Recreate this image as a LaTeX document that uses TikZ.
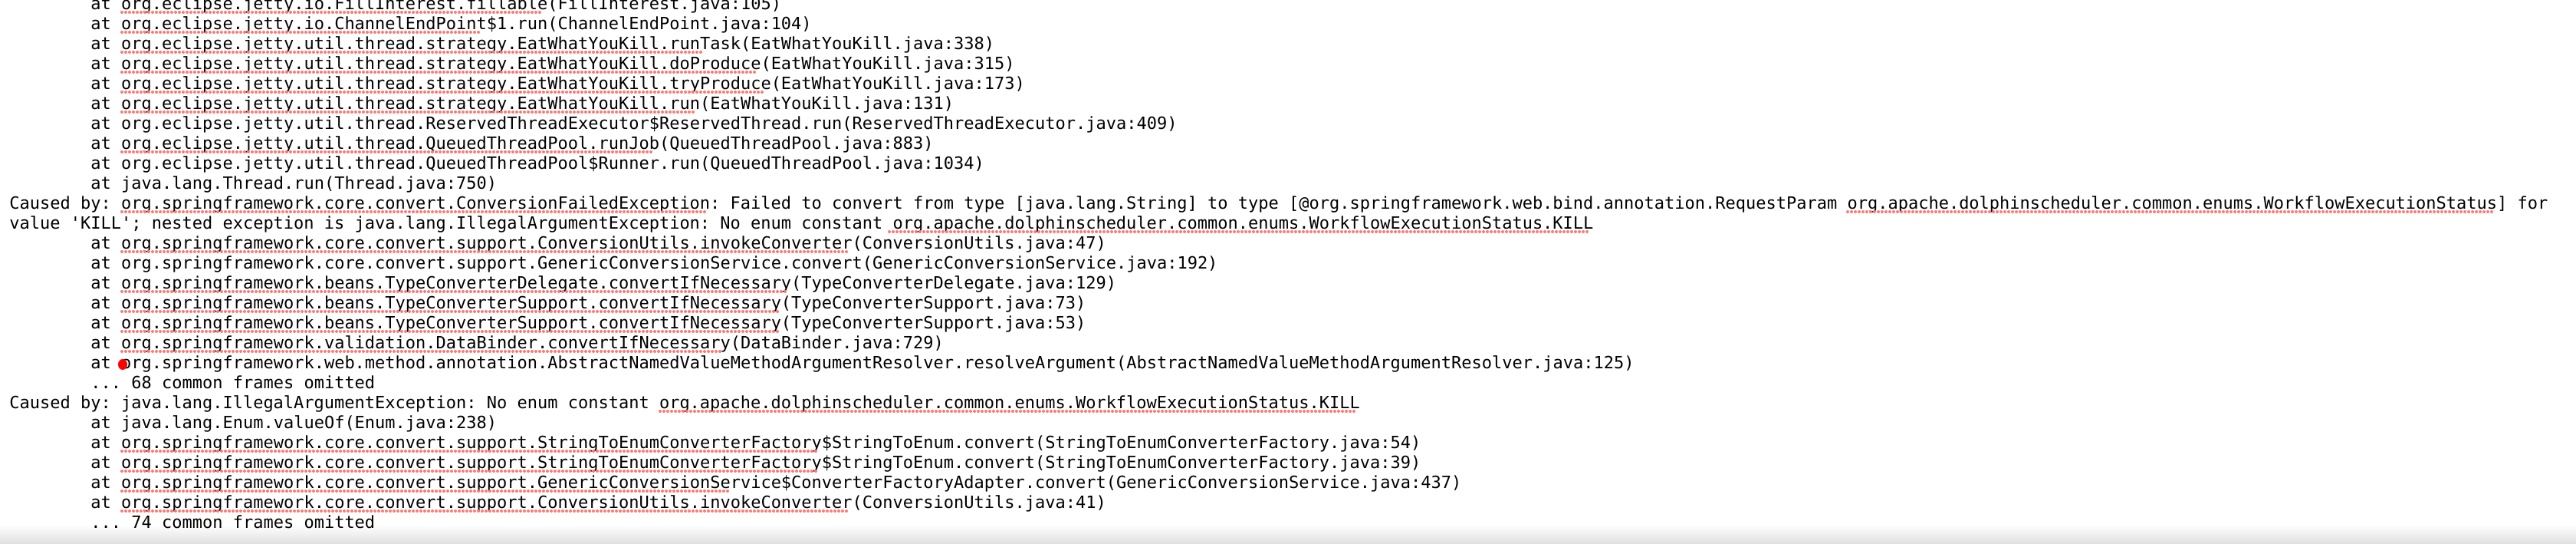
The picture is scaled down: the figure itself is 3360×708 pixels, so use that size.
\documentclass[tikz,border=0pt]{standalone}
\usepackage{fontspec}
\setmonofont{DejaVu Sans Mono}
\usetikzlibrary{positioning}

\begin{document}
\begin{tikzpicture}[x=0.5pt, y=-0.5pt]
\tikzstyle{log line}=[anchor=base west, inner sep=0, font=\ttfamily\fontsize{11}{13}\selectfont]
\tikzstyle{spell mark}=[draw={rgb,255:red,255;green,120;blue,114}, line width=2pt, line cap=round, dash pattern=on 0pt off 2.5pt]
\useasboundingbox (0,0) rectangle (3360,708);
\shade[top color=white, bottom color=black!12] (0,684) rectangle (3360,708);

% stack frames of the jetty thread
\node[log line] (l0) at (118,12) {at org.eclipse.jetty.io.FillInterest.fillable(FillInterest.java:105)};
\node[log line] (l1) at (118,38) {at org.eclipse.jetty.io.ChannelEndPoint\$1.run(ChannelEndPoint.java:104)};
\node[log line] (l2) at (118,64) {at org.eclipse.jetty.util.thread.strategy.EatWhatYouKill.runTask(EatWhatYouKill.java:338)};
\node[log line] (l3) at (118,90) {at org.eclipse.jetty.util.thread.strategy.EatWhatYouKill.doProduce(EatWhatYouKill.java:315)};
\node[log line] (l4) at (118,116) {at org.eclipse.jetty.util.thread.strategy.EatWhatYouKill.tryProduce(EatWhatYouKill.java:173)};
\node[log line] (l5) at (118,142) {at org.eclipse.jetty.util.thread.strategy.EatWhatYouKill.run(EatWhatYouKill.java:131)};
\node[log line] (l6) at (118,168) {at org.eclipse.jetty.util.thread.ReservedThreadExecutor\$ReservedThread.run(ReservedThreadExecutor.java:409)};
\node[log line] (l7) at (118,194) {at org.eclipse.jetty.util.thread.QueuedThreadPool.runJob(QueuedThreadPool.java:883)};
\node[log line] (l8) at (118,220) {at org.eclipse.jetty.util.thread.QueuedThreadPool\$Runner.run(QueuedThreadPool.java:1034)};
\node[log line] (l9) at (118,246) {at java.lang.Thread.run(Thread.java:750)};

% first cause
\node[log line] (l10) at (12,272) {Caused by: org.springframework.core.convert.ConversionFailedException: Failed to convert from type [java.lang.String] to type [@org.springframework.web.bind.annotation.RequestParam org.apache.dolphinscheduler.common.enums.WorkflowExecutionStatus] for};
\node[log line] (l11) at (12,298) {value 'KILL'; nested exception is java.lang.IllegalArgumentException: No enum constant org.apache.dolphinscheduler.common.enums.WorkflowExecutionStatus.KILL};
\node[log line] (l12) at (118,324) {at org.springframework.core.convert.support.ConversionUtils.invokeConverter(ConversionUtils.java:47)};
\node[log line] (l13) at (118,350) {at org.springframework.core.convert.support.GenericConversionService.convert(GenericConversionService.java:192)};
\node[log line] (l14) at (118,376) {at org.springframework.beans.TypeConverterDelegate.convertIfNecessary(TypeConverterDelegate.java:129)};
\node[log line] (l15) at (118,402) {at org.springframework.beans.TypeConverterSupport.convertIfNecessary(TypeConverterSupport.java:73)};
\node[log line] (l16) at (118,428) {at org.springframework.beans.TypeConverterSupport.convertIfNecessary(TypeConverterSupport.java:53)};
\node[log line] (l17) at (118,454) {at org.springframework.validation.DataBinder.convertIfNecessary(DataBinder.java:729)};
\node[log line] (l18) at (118,480) {at org.springframework.web.method.annotation.AbstractNamedValueMethodArgumentResolver.resolveArgument(AbstractNamedValueMethodArgumentResolver.java:125)};
\node[log line] (l19) at (118,506) {... 68 common frames omitted};

% second cause
\node[log line] (l20) at (12,532) {Caused by: java.lang.IllegalArgumentException: No enum constant org.apache.dolphinscheduler.common.enums.WorkflowExecutionStatus.KILL};
\node[log line] (l21) at (118,558) {at java.lang.Enum.valueOf(Enum.java:238)};
\node[log line] (l22) at (118,584) {at org.springframework.core.convert.support.StringToEnumConverterFactory\$StringToEnum.convert(StringToEnumConverterFactory.java:54)};
\node[log line] (l23) at (118,610) {at org.springframework.core.convert.support.StringToEnumConverterFactory\$StringToEnum.convert(StringToEnumConverterFactory.java:39)};
\node[log line] (l24) at (118,636) {at org.springframework.core.convert.support.GenericConversionService\$ConverterFactoryAdapter.convert(GenericConversionService.java:437)};
\node[log line] (l25) at (118,662) {at org.springframework.core.convert.support.ConversionUtils.invokeConverter(ConversionUtils.java:41)};
\node[log line] (l26) at (118,688) {... 74 common frames omitted};

% breakpoint dot
\fill[red] (160,475) ellipse (6 and 7);

% spell check marks
\foreach \y/\xa/\xb in {16/159/708, 42/159/627, 68/159/918, 94/159/987, 120/159/998,
  146/159/907, 198/159/853, 276/159/921, 276/2410/3250, 302/1160/2071,
  328/159/1106, 380/159/1025, 406/159/1014, 432/159/1014, 458/159/943,
  536/861/1768, 588/159/1068, 614/159/1068, 640/159/953, 666/159/1106}
  \draw[spell mark] (\xa,\y) -- (\xb,\y);
\end{tikzpicture}
\end{document}
